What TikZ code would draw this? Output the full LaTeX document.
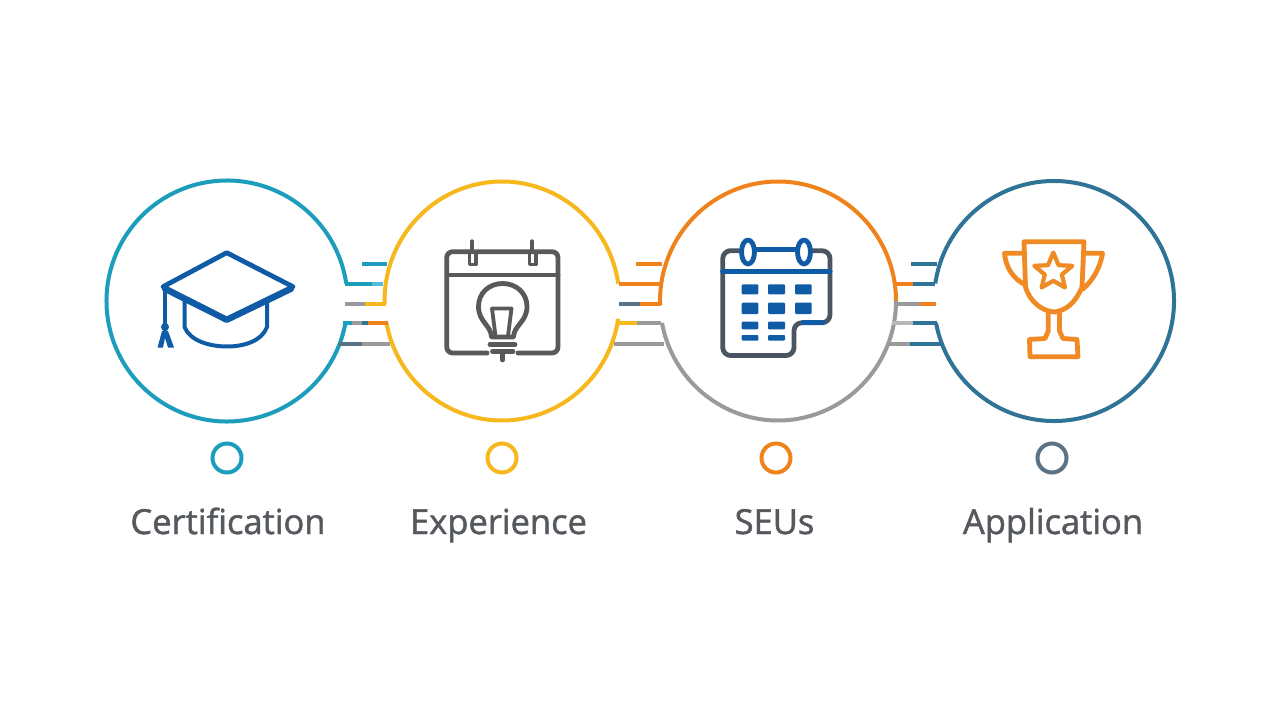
\documentclass[tikz,border=0pt]{standalone}
\usepackage{fontspec}
\setmainfont{Open Sans}[BoldFont=Open Sans,BoldFeatures={FakeBold=1.4}]
\usetikzlibrary{calc}
\definecolor{tealc}{HTML}{1C9DBB}
\definecolor{skyc}{HTML}{55BBDD}
\definecolor{yelc}{HTML}{F6B81C}
\definecolor{orac}{HTML}{F0821C}
\definecolor{gryc}{HTML}{9A9A9A}
\definecolor{stlc}{HTML}{2F7496}
\definecolor{slac}{HTML}{5A7284}
\definecolor{capc}{HTML}{0F5BA6}
\definecolor{icoc}{HTML}{58595B}
\definecolor{fraC}{HTML}{4A5561}
\definecolor{troc}{HTML}{F08A24}
\definecolor{txtc}{HTML}{55595E}
\tikzset{
 ring/.style={line width=4pt,line cap=butt},
 stub/.style={line width=4pt,line cap=butt},
 dot/.style={circle,draw,line width=4pt,minimum size=29pt,inner sep=0pt},
 lab/.style={text=txtc,font=\fontsize{34.5}{38}\selectfont\bfseries,inner sep=0pt,anchor=base},
 ico/.style={line width=4.8pt,line join=round,line cap=round},
}
% centre x, centre y, rx, ry, start, end, colour
\newcommand{\rarc}[7]{\draw[ring,#7] (#1,-#2) ++(#5:#3 and #4) arc[start angle=#5,end angle=#6,x radius=#3,y radius=#4];}
\newcommand{\stb}[4]{\draw[stub,#4] (#1,#3) -- (#2,#3);}
\begin{document}
\begin{tikzpicture}[x=1pt,y=-1pt]
\useasboundingbox (0,0) rectangle (1280,720);
\fill[white] (0,0) rectangle (1280,720);
% rings
\begin{scope}[y=1pt]
\rarc{227}{301}{120.5}{120.5}{8.4}{349.4}{tealc}
\rarc{502}{301}{117.5}{119.5}{8.4}{181.4}{yelc}
\rarc{502}{301}{117.5}{119.5}{190.6}{351.4}{yelc}
\rarc{778}{301}{118}{119.5}{0}{182}{orac}
\rarc{778}{301}{118}{119.5}{190.6}{360}{gryc}
\rarc{1054}{301}{120}{120}{171.6}{-169.4}{stlc}
\end{scope}
% connectors 1-2
\stb{362}{387}{263.5}{tealc}
\stb{345}{372}{283.5}{tealc}
\stb{372}{383}{283.5}{skyc}
\stb{345}{365}{304}{gryc}
\stb{365}{386}{304}{yelc}
\stb{343}{368}{323}{gryc}
\stb{343}{352}{323}{tealc}
\stb{362}{370}{323}{stlc}
\stb{368}{388}{323}{orac}
\stb{339}{362}{344}{slac}
\stb{362}{390}{344}{gryc}
% connectors 2-3
\stb{636}{662}{263.5}{orac}
\stb{619}{661}{283.5}{orac}
\stb{619}{640}{304}{slac}
\stb{640}{661}{304}{orac}
\stb{617}{637}{323}{yelc}
\stb{637}{661}{323}{gryc}
\stb{614}{664}{344}{gryc}
% connectors 3-4
\stb{911}{937}{263.5}{stlc}
\stb{895}{913}{283.5}{orac}
\stb{913}{935}{283.5}{stlc}
\stb{896}{920}{304}{gryc}
\stb{920}{936}{304}{orac}
\stb{892}{913}{323}{gryc!70}
\stb{913}{937}{323}{stlc}
\stb{888}{910}{344}{gryc}
\stb{910}{941}{344}{stlc}
% cap
\draw[ico,capc] (226.7,252.7) -- (293,286.7) -- (226.7,319) -- (163,286.7) -- cycle;
\draw[ico,capc,line width=6pt] (165,289) -- (226.7,320) -- (291,289);
\draw[ico,capc,line width=4pt] (184.5,300) -- (184.5,327) .. controls (190,341) and (210,346.5) .. (227,346.5) .. controls (244,346.5) and (262,341) .. (267,327) -- (267,299);
\draw[ico,capc,line width=3.6pt] (165,287) -- (165,330);
\fill[capc] (165,327) circle (4);
\fill[capc] (162,331) -- (168,331) -- (174,347.5) -- (168,347.5) -- (165,338) -- (163,347.5) -- (157.5,347.5) -- cycle;
% calendar with bulb
\draw[ico,icoc] (487,353) -- (453,353) [rounded corners=6pt] -- (446.7,353) -- (446.7,251.7) -- (558,251.7) -- (558,353) -- (518,353);
\draw[ico,icoc] (447,275) -- (558,275);
\draw[ico,icoc,line width=3.4pt] (472,241) -- (472,252) (469.3,252) -- (469.3,264.5) -- (476,264.5) -- (476,252);
\draw[ico,icoc,line width=3.4pt] (532,241) -- (532,252) (529.5,252) -- (529.5,264.5) -- (536,264.5) -- (536,252);
\draw[ico,icoc] (491.5,337) .. controls (491,325) and (478.5,322) .. (478.5,306.5) .. controls (478.5,293) and (489,283.5) .. (502.7,283.5) .. controls (516,283.5) and (527,293) .. (527,306.5) .. controls (527,322) and (514,325) .. (513.5,337) -- cycle;
\draw[ico,icoc,line width=3.8pt] (495.5,336) -- (492,308.5) -- (511.5,308.5) -- (508,336);
\draw[ico,icoc] (490,344.5) -- (515,344.5);
\draw[ico,icoc] (492.5,351.5) -- (513,351.5);
\draw[ico,icoc] (502.7,353) -- (502.7,360);
% blue calendar
\draw[ico,fraC] (739,250.7) -- (729,250.7) [rounded corners=8pt] -- (722.7,250.7) -- (722.7,355.5) -- (794,355.5) -- (794,322.7) -- (830,322.7) -- (830,250.7) -- (813,250.7);
\draw[ico,capc] (803,322.7) -- (823,322.7);
\draw[ico,capc] (757,249.5) -- (795,249.5);
\draw[ico,capc,line width=5pt] (722.7,271.7) -- (830,271.7);
\draw[ico,capc,fill=white] (748,252) ellipse [x radius=6.5,y radius=12];
\draw[ico,capc,fill=white] (804,252) ellipse [x radius=6.5,y radius=12];
\foreach \xa/\xb in {741.7/758.3,768/785,795/811.7}{
 \fill[capc,rounded corners=1pt] (\xa,284.3) rectangle (\xb,294.3);
 \fill[capc,rounded corners=1pt] (\xa,302.7) rectangle (\xb,314);
}
\foreach \xa/\xb in {741.7/758.3,768/785}{
 \fill[capc,rounded corners=1pt] (\xa,321.7) rectangle (\xb,329.3);
 \fill[capc,rounded corners=1pt] (\xa,335) rectangle (\xb,340.7);
}
% trophy
\draw[ico,troc] (1024,241.7) -- (1084,241.7) -- (1082,287) .. controls (1076,302) and (1066,311) .. (1054,312) .. controls (1042,311) and (1030,302) .. (1025.5,287) -- cycle;
\draw[ico,troc] (1025,253.3) -- (1004.5,253.3) .. controls (1006,269) and (1014,279) .. (1025.5,285);
\draw[ico,troc] (1083,253.3) -- (1102.5,253.3) .. controls (1100,269) and (1092,281) .. (1083,289);
\draw[ico,troc] (1048.3,313) -- (1048.3,331) -- (1045,338.5) -- (1029.5,339.5) -- (1030,356.7) -- (1078,356.7) -- (1077,339.5) -- (1063,338.5) -- (1059.5,331) -- (1059.5,313);
\draw[ico,troc,line width=4.2pt] (1053.3,252.5) -- (1058.6,265.2) -- (1072.3,265.8) -- (1061.8,274.6) -- (1065,287.5) -- (1053.3,280.8) -- (1041.6,287.5) -- (1044.8,274.6) -- (1034.3,265.8) -- (1048,265.2) -- cycle;
% dots
\node[dot,draw=tealc] (d1) at (227,458) {};
\node[dot,draw=yelc] (d2) at (502,458) {};
\node[dot,draw=orac] (d3) at (776,458) {};
\node[dot,draw=slac] (d4) at (1052,458) {};
% labels
\node[lab] (l1) at (228,534) {Certification};
\node[lab] (l2) at (498.5,534) {Experience};
\node[lab] (l3) at (774.5,534) {SEUs};
\node[lab] (l4) at (1053,534) {Application};
\end{tikzpicture}
\end{document}
